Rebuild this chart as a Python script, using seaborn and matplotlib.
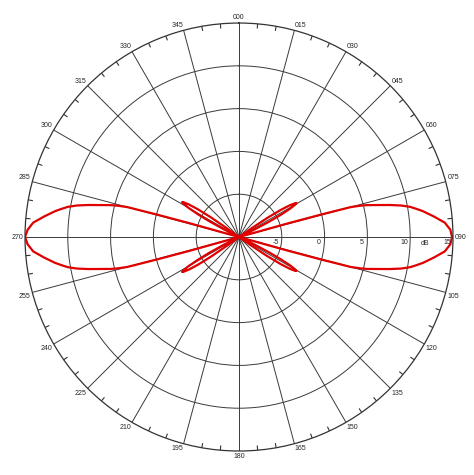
import numpy as np
import pandas as pd
import matplotlib
matplotlib.use('Agg')
import matplotlib.pyplot as plt
import seaborn as sns

# pattern: bearing (deg, clockwise from north) and level (dB)
# east half, 0 -> 180
east_deg = [0, 40, 54, 55, 56, 57, 58, 59, 59.5, 60, 61, 62, 63, 64, 65,
            73, 74, 74.4, 74.7, 75, 75.5, 76, 77, 78, 79, 80, 81, 82, 84, 86, 88, 90,
            92, 94, 96, 98, 99, 100, 101, 102, 103, 104, 104.5, 105, 105.3, 105.6, 106,
            114, 115, 116, 117, 118, 119, 120, 120.5, 121, 122, 123, 124, 125, 126,
            140, 180]
east_db = [-10, -10, -10, -8.5, -6, -4.2, -3, -2.3, -2.2, -2.4, -3.2, -4.5, -6, -8, -10,
           -10, -10, -4, 0, 3.5, 4.6, 5.4, 6.6, 8.0, 9.3, 10.3, 11.0, 11.7, 12.9, 14.1, 14.7, 14.9,
           14.7, 14.1, 12.9, 11.7, 11.0, 10.3, 9.3, 8.0, 6.6, 5.4, 4.6, 3.5, 0, -4, -10,
           -10, -10, -8, -6, -4.5, -3.2, -2.4, -2.2, -2.3, -3, -4.2, -6, -8.5, -10,
           -10, -10]

# west half, 180 -> 360
west_deg = [180, 220, 233, 234, 235, 236, 237, 238, 238.5, 239, 240, 241, 242, 243, 244,
            253, 254, 254.4, 254.7, 255, 255.5, 256, 257, 258, 259, 260, 261, 262, 264, 266, 268, 270,
            272, 274, 276, 278, 279, 280, 281, 282, 283, 284, 284.5, 285, 285.3, 285.6, 286,
            295, 296, 297, 298, 299, 300, 301, 301.5, 302, 303, 304, 305, 306, 307,
            320, 360]
west_db = [-10, -10, -10, -8.5, -6, -4.2, -3, -2.3, -2.2, -2.4, -3.2, -4.5, -6, -8, -10,
           -10, -10, -4, 0, 3.5, 4.6, 5.4, 6.6, 8.0, 9.3, 10.3, 11.0, 11.7, 12.9, 14.1, 14.7, 15.0,
           14.7, 14.1, 12.9, 11.7, 11.0, 10.3, 9.3, 8.0, 6.6, 5.4, 4.6, 3.5, 0, -4, -10,
           -10, -10, -8, -6, -4.5, -3.2, -2.4, -2.2, -2.3, -3, -4.2, -6, -8.5, -10,
           -10, -10]

ring_db = [-5, 0, 5, 10, 15]
spoke_deg = list(range(0, 360, 15))
minor_deg = [d for d in range(0, 360, 5) if d % 15]

sns.set_style('white')
plt.rcParams['font.family'] = ['Liberation Sans', 'DejaVu Sans']

df = pd.DataFrame({
    'theta': np.deg2rad(east_deg + west_deg),
    'level': east_db + west_db,
})

fig = plt.figure(figsize=(4.74, 4.75), dpi=100)
ax = fig.add_axes([0.0527, 0.0505, 0.903, 0.901], projection='polar')
ax.set_theta_zero_location('N')
ax.set_theta_direction(-1)

ax.set_ylim(-10, 15)
ax.set_yticks(ring_db[:-1])
ax.set_yticklabels([])
ax.set_xticks(np.deg2rad(spoke_deg))
ax.set_xticklabels([])
ax.tick_params(axis='x', length=0)
ax.grid(True, color='#3a3a3a', linewidth=0.7)
ax.spines['polar'].set_color('#333333')
ax.spines['polar'].set_linewidth(0.9)

# small 5-degree marks just inside the outer ring
ax.vlines(np.deg2rad(minor_deg), 14.45, 15, color='#333333', linewidth=0.8)

sns.lineplot(data=df, x='theta', y='level', ax=ax, sort=False, estimator=None,
             color='#e00000', linewidth=1.6)
ax.set_ylim(-10, 15)
ax.set_xlabel('')
ax.set_ylabel('')

# bearing labels round the outside
for b in spoke_deg:
    s, c = np.sin(np.deg2rad(b)), np.cos(np.deg2rad(b))
    ha = 'left' if s > 0.01 else ('right' if s < -0.01 else 'center')
    va = 'bottom' if c > 0.01 else ('top' if c < -0.01 else 'center')
    ax.annotate(f'{b:03d}', xy=(np.deg2rad(b), 15), xytext=(1.2 * s, 1.2 * c),
                textcoords='offset points', ha=ha, va=va, fontsize=5,
                annotation_clip=False)

# ring labels along the 090 spoke
for v in ring_db:
    ax.annotate(str(v), xy=(np.pi / 2, v), xytext=(-4.3, -4.3),
                textcoords='offset points', ha='center', va='center', fontsize=5,
                annotation_clip=False)
ax.annotate('dB', xy=(np.pi / 2, 11.7), xytext=(0, -4.6),
            textcoords='offset points', ha='center', va='center', fontsize=5)

fig.savefig('out.png', dpi=100, facecolor='white')
